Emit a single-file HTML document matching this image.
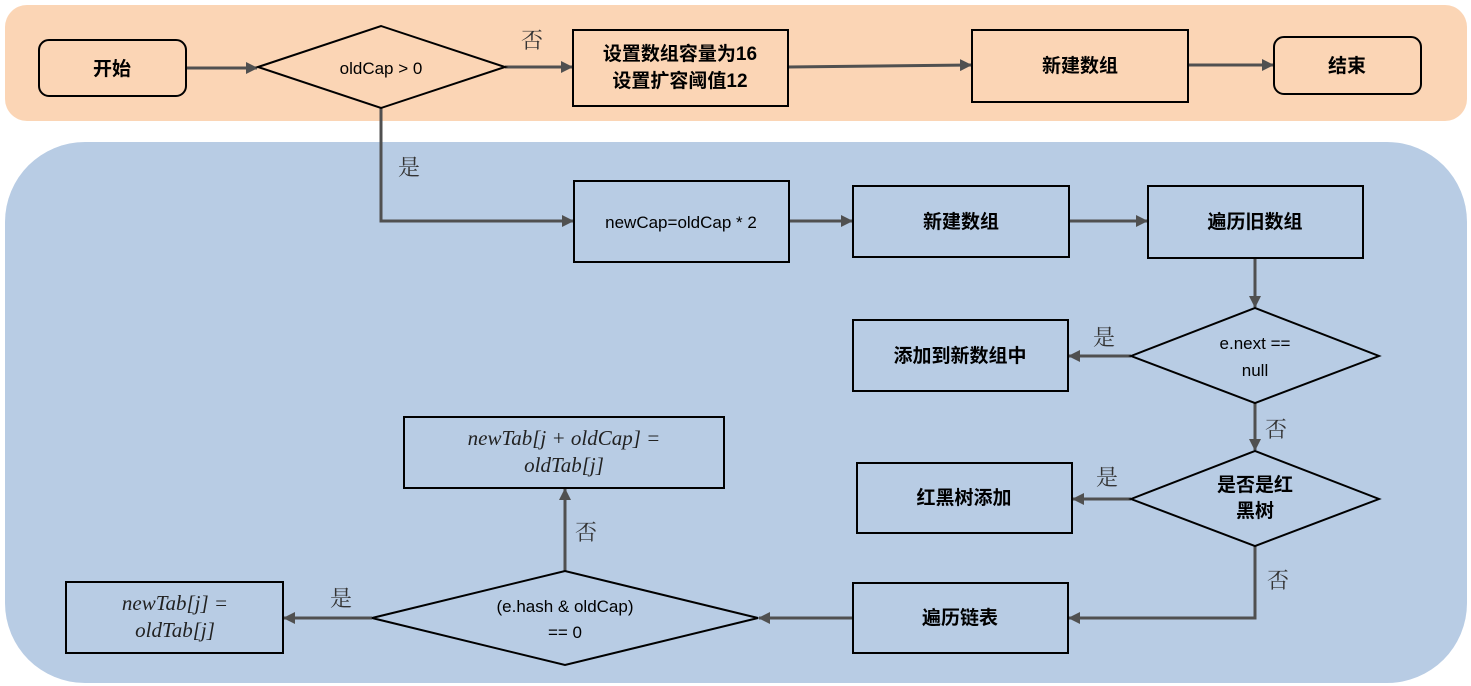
<!DOCTYPE html>
<html><head><meta charset="utf-8"><style>
body{margin:0;background:#fff;}
svg{display:block;}
.t{font-family:"Liberation Sans","Noto Sans CJK SC",sans-serif;font-size:19px;font-weight:bold;fill:#000;text-anchor:middle;}
.n{font-family:"Liberation Sans","Noto Sans CJK SC",sans-serif;font-size:17px;fill:#000;text-anchor:middle;}
.i{font-family:"Liberation Serif","Noto Sans CJK SC",serif;font-style:italic;font-size:21px;fill:#222;text-anchor:middle;}
.l{font-family:"Noto Serif CJK SC","Noto Sans CJK SC",serif;font-size:22px;fill:#333;}
</style></head><body>
<svg width="1471" height="686" viewBox="0 0 1471 686">
<defs><marker id="a" markerWidth="12" markerHeight="12" refX="11" refY="6" orient="auto" markerUnits="userSpaceOnUse"><path d="M0,0 L12,6 L0,12 z" fill="#505050"/></marker></defs>
<rect x="5" y="5" width="1462" height="116" rx="22" fill="#fbd5b5"/>
<rect x="5" y="142" width="1462" height="541" rx="80" fill="#b8cce4"/>
<g stroke="#505050" stroke-width="3" fill="none" marker-end="url(#a)">
<path d="M186,68 H257"/>
<path d="M505,67 H572"/>
<path d="M788,67 L971,65"/>
<path d="M1188,65 H1273"/>
<path d="M381,108 V221 H573"/>
<path d="M789,221 H852"/>
<path d="M1069,221 H1147"/>
<path d="M1255,258 V307"/>
<path d="M1131,356 H1069"/>
<path d="M1255,403 V450"/>
<path d="M1131,499 H1073"/>
<path d="M1255,546 V618 H1069"/>
<path d="M853,618 H759"/>
<path d="M372,618 H284"/>
<path d="M565,571 V489"/>
</g>
<g stroke="#000" stroke-width="2" fill="none">
<rect x="39" y="40" width="147" height="56" rx="10"/>
<polygon points="258,67 381,26 505,67 381,108"/>
<rect x="573" y="30" width="215" height="76"/>
<rect x="972" y="30" width="216" height="72"/>
<rect x="1274" y="37" width="147" height="57" rx="10"/>
<rect x="574" y="181" width="215" height="81"/>
<rect x="853" y="186" width="216" height="71"/>
<rect x="1148" y="186" width="215" height="72"/>
<polygon points="1131,356 1255,308 1379,356 1255,403"/>
<rect x="853" y="320" width="215" height="71"/>
<polygon points="1131,499 1255,451 1379,499 1255,546"/>
<rect x="857" y="463" width="215" height="70"/>
<rect x="853" y="583" width="215" height="70"/>
<polygon points="372,618 565,571 758,618 565,665"/>
<rect x="404" y="417" width="320" height="71"/>
<rect x="66" y="582" width="217" height="71"/>
</g>
<text class="t" x="112" y="75">开始</text>
<text class="n" x="381" y="74">oldCap &gt; 0</text>
<text class="t" x="680" y="60">设置数组容量为16</text>
<text class="t" x="680" y="87">设置扩容阈值12</text>
<text class="t" x="1080" y="72">新建数组</text>
<text class="t" x="1347" y="72">结束</text>
<text class="n" x="681" y="228">newCap=oldCap * 2</text>
<text class="t" x="961" y="228">新建数组</text>
<text class="t" x="1255" y="228">遍历旧数组</text>
<text class="n" x="1255" y="349">e.next ==</text>
<text class="n" x="1255" y="376">null</text>
<text class="t" x="960" y="362">添加到新数组中</text>
<text class="t" x="1255" y="491">是否是红</text>
<text class="t" x="1255" y="517">黑树</text>
<text class="t" x="964" y="504">红黑树添加</text>
<text class="t" x="960" y="624">遍历链表</text>
<text class="n" x="565" y="612">(e.hash &amp; oldCap)</text>
<text class="n" x="565" y="638">== 0</text>
<text class="i" x="564" y="445">newTab[j + oldCap] =</text>
<text class="i" x="564" y="472">oldTab[j]</text>
<text class="i" x="175" y="610">newTab[j] =</text>
<text class="i" x="175" y="637">oldTab[j]</text>
<text class="l" x="521" y="48">否</text>
<text class="l" x="398" y="175">是</text>
<text class="l" x="1093" y="345">是</text>
<text class="l" x="1265" y="437">否</text>
<text class="l" x="1096" y="485">是</text>
<text class="l" x="1267" y="588">否</text>
<text class="l" x="575" y="540">否</text>
<text class="l" x="330" y="606">是</text>
</svg>
</body></html>
